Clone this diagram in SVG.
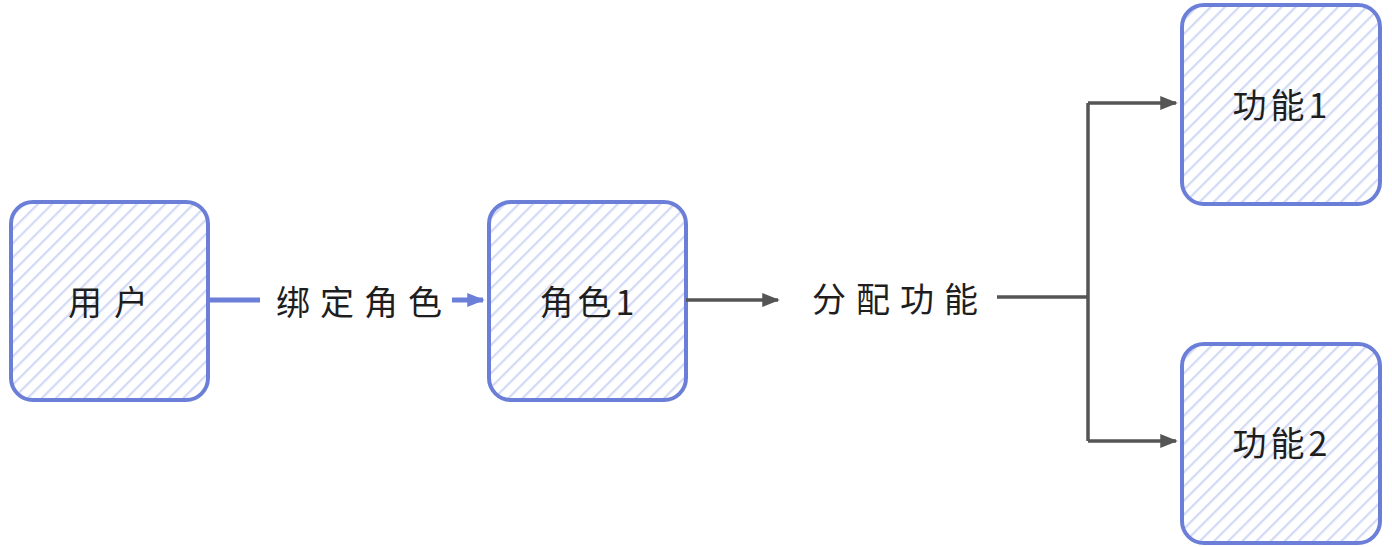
<svg xmlns="http://www.w3.org/2000/svg" width="1392" height="547" viewBox="0 0 1392 547">
<defs>
<pattern id="hatch" patternUnits="userSpaceOnUse" width="10" height="10" patternTransform="rotate(45)">
<rect width="10" height="10" fill="#ffffff"/>
<line x1="0" y1="0" x2="0" y2="10" stroke="#d3daf5" stroke-width="4.5"/>
</pattern>
<marker id="ag" viewBox="0 0 10 10" refX="9" refY="5" markerWidth="5" markerHeight="5" markerUnits="strokeWidth" orient="auto">
<path d="M0,1 L10,5 L0,9 Z" fill="#555555"/>
</marker>
<marker id="ab" viewBox="0 0 10 10" refX="9" refY="5" markerWidth="3.5" markerHeight="3.5" markerUnits="strokeWidth" orient="auto">
<path d="M0,1 L10,5 L0,9 Z" fill="#6c7fd8"/>
</marker>
</defs>
<style>
.box{fill:url(#hatch);stroke:#6c7fd8;stroke-width:4}
.t{font-family:"Noto Sans CJK SC","Noto Sans",sans-serif;font-size:34px;font-weight:400;fill:#1e1e1e;text-anchor:middle;dominant-baseline:central}
.cg{fill:none;stroke:#555555;stroke-width:3.5}
.cb{fill:none;stroke:#6c7fd8;stroke-width:5}
</style>
<rect width="1392" height="547" fill="#ffffff"/>
<g id="user"><rect class="box" x="11" y="202" width="197" height="198" rx="22"/><text class="t" x="114" y="300" letter-spacing="12">用户</text></g>
<g id="role1"><rect class="box" x="489" y="202" width="197" height="198" rx="22"/><text class="t" x="589" y="300" letter-spacing="4">角色1</text></g>
<g id="func1"><rect class="box" x="1182" y="5" width="198" height="199" rx="22"/><text class="t" x="1282" y="103" letter-spacing="4">功能1</text></g>
<g id="func2"><rect class="box" x="1182" y="344" width="198" height="199" rx="22"/><text class="t" x="1282" y="441" letter-spacing="4">功能2</text></g>
<g id="connectors">
<path class="cb" d="M208,300 L260,300"/>
<path class="cb" d="M452,300 L483,300" marker-end="url(#ab)"/>
<text class="t" x="364" y="300" letter-spacing="10">绑定角色</text>
<path class="cg" d="M686,300 L778,300" marker-end="url(#ag)"/>
<text class="t" x="900" y="297" letter-spacing="10">分配功能</text>
<path class="cg" d="M997,297 L1088,297"/>
<path class="cg" d="M1088,103 L1088,441"/>
<path class="cg" d="M1088,103 L1176,103" marker-end="url(#ag)"/>
<path class="cg" d="M1088,441 L1176,441" marker-end="url(#ag)"/>
</g>
</svg>
